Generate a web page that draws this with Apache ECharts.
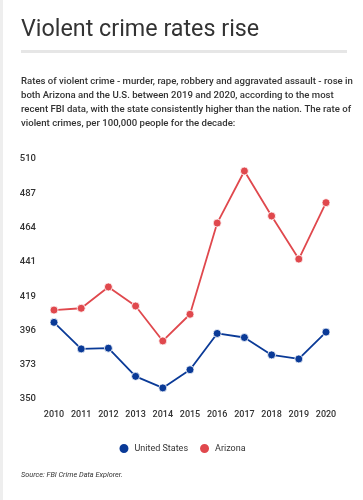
<!DOCTYPE html>
<html><head><meta charset="utf-8">
<script src="https://cdn.jsdelivr.net/npm/echarts@6/dist/echarts.min.js"></script>
<style>html,body{margin:0;padding:0;background:#fff}#c{width:363px;height:500px}</style>
</head><body><div id="c"></div>
<script>
const years = ['2010','2011','2012','2013','2014','2015','2016','2017','2018','2019','2020'];
const unitedStates = [401.1, 383.4, 383.9, 365.1, 357.4, 369.5, 393.7, 391.0, 379.4, 376.7, 394.6];
const arizona = [409.3, 410.5, 424.7, 412.0, 388.7, 406.5, 467.3, 502.0, 472.0, 443.3, 480.9];
const yMin = 350, yMax = 510, ySteps = 7;

const chart = echarts.init(document.getElementById('c'), null, {renderer:'canvas'});
const F = 'Roboto, sans-serif';
chart.setOption({
  animation:false,
  backgroundColor:'#fff',
  title:[
    {text:'Violent crime rates rise', left:21, top:19, padding:0, textStyle:{fontFamily:F, fontSize:23.3, fontWeight:400, color:'#333'}},
    {text:'Rates of violent crime - murder, rape, robbery and aggravated assault - rose in\nboth Arizona and the U.S. between 2019 and 2020, according to the most\nrecent FBI data, with the state consistently higher than the nation. The rate of\nviolent crimes, per 100,000 people for the decade:',
     left:21, top:75, padding:0, textStyle:{fontFamily:F, fontSize:9.6, fontWeight:500, color:'#333', lineHeight:14}},
    {text:'Source: FBI Crime Data Explorer.', left:21, top:472, padding:0, textStyle:{fontFamily:F, fontSize:7.3, fontStyle:'italic', fontWeight:400, color:'#333'}}
  ],
  graphic:[
    {type:'rect', left:0, top:0, shape:{width:3, height:500}, style:{fill:'#eeeeee'}},
    {type:'rect', left:21, top:50, shape:{width:326, height:3}, style:{fill:'#e6e6e6'}}
  ],
  legend:{
    data:['United States','Arizona'], top:437, left:'center', icon:'circle', itemWidth:11, itemHeight:11, itemGap:10,
    textStyle:{fontFamily:F, fontSize:9, color:'#333', fontWeight:400}
  },
  grid:{left:54, right:37, top:159, bottom:101, containLabel:false},
  xAxis:{
    type:'category', data:years, boundaryGap:false,
    axisLine:{show:false}, axisTick:{show:false}, splitLine:{show:false},
    axisLabel:{fontFamily:F, fontSize:9, fontWeight:500, color:'#333', margin:11}
  },
  yAxis:{
    type:'value', min:yMin, max:yMax, interval:(yMax-yMin)/ySteps,
    axisLine:{show:false}, axisTick:{show:false}, splitLine:{show:false},
    axisLabel:{fontFamily:F, fontSize:9.5, fontWeight:500, color:'#333', margin:18, formatter:v=>Math.round(v)}
  },
  series:[
    {name:'United States', type:'line', data:unitedStates, color:'#0a3a97', symbol:'circle', symbolSize:8,
     lineStyle:{width:1.8}, itemStyle:{borderColor:'#fff', borderWidth:0.8}},
    {name:'Arizona', type:'line', data:arizona, color:'#e0484d', symbol:'circle', symbolSize:8,
     lineStyle:{width:1.8}, itemStyle:{borderColor:'#fff', borderWidth:0.8}}
  ]
});
</script></body></html>
